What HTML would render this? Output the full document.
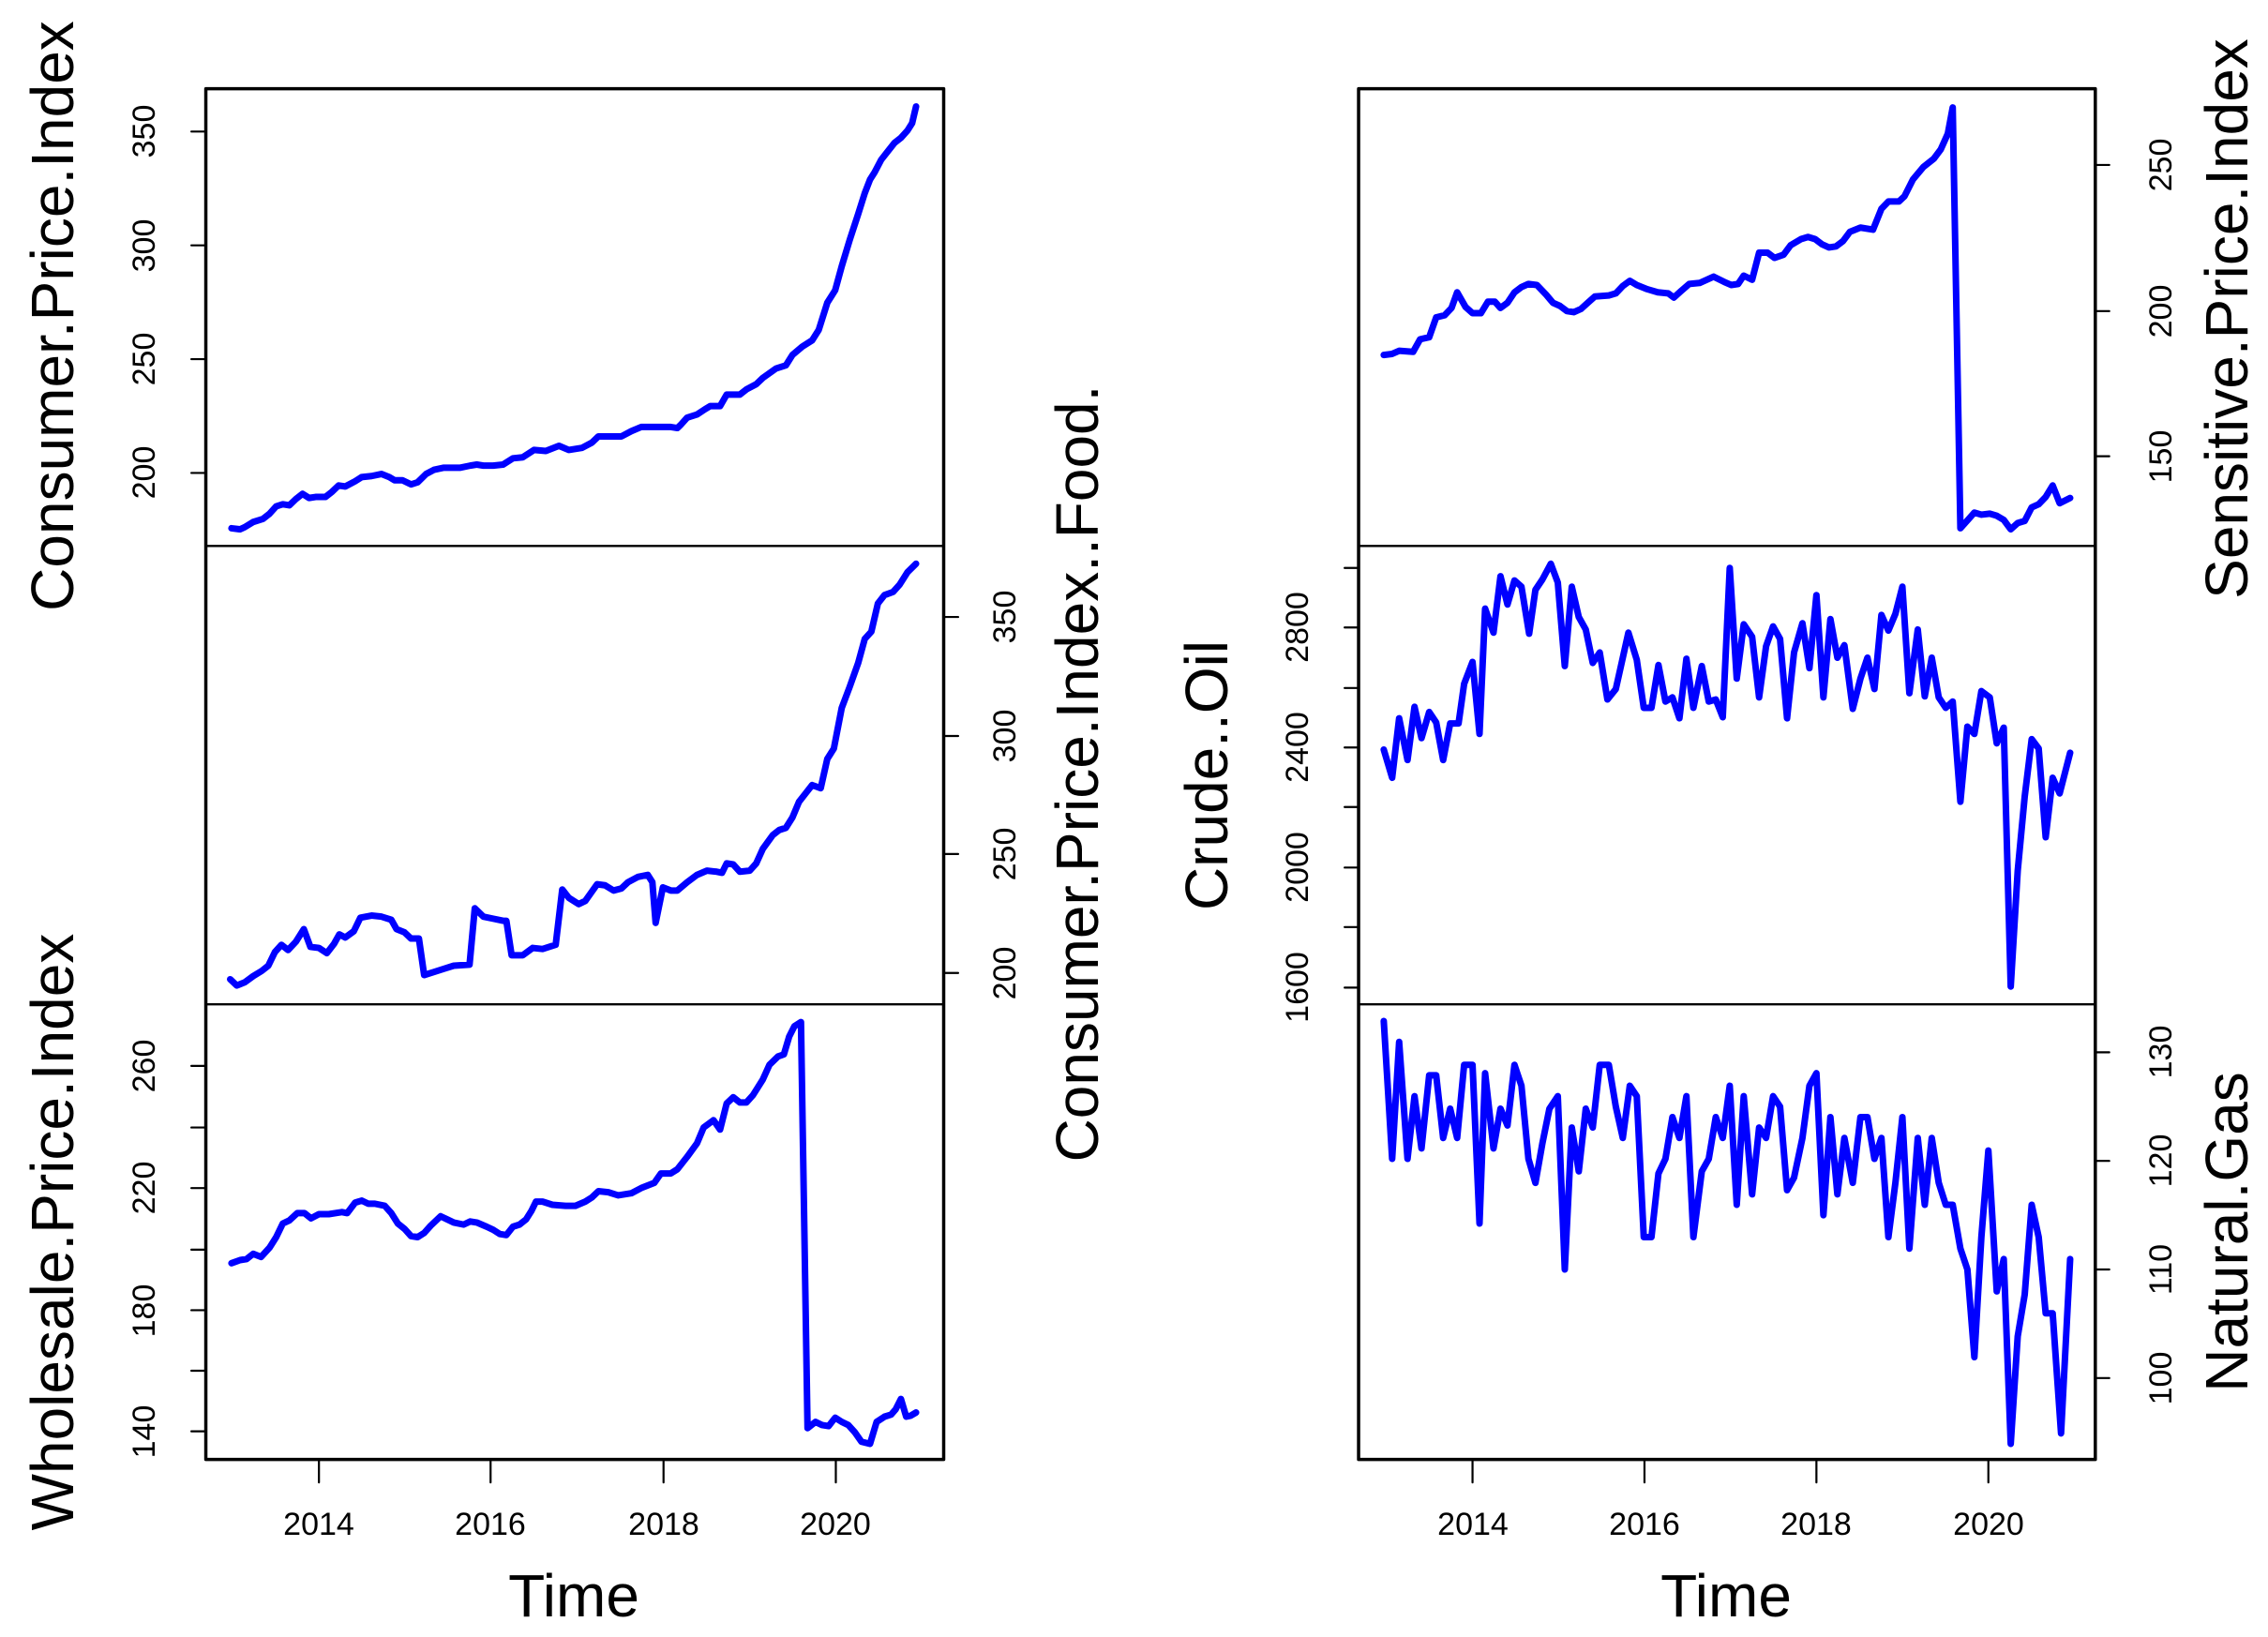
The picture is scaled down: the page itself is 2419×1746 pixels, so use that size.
<!DOCTYPE html>
<html><head><meta charset="utf-8"><style>html,body{margin:0;padding:0;background:#fff}svg{display:block}text{font-family:"Liberation Sans",sans-serif;fill:#000}</style></head><body>
<svg width="2419" height="1746" viewBox="0 0 2419 1746" xmlns="http://www.w3.org/2000/svg">
<g transform="scale(0.7014,1.1135)" fill="none" stroke-linejoin="round" stroke-linecap="round">
<rect x="313" y="85" width="1122" height="1313" stroke="#000" stroke-width="3.5" vector-effect="non-scaling-stroke"/>
<line x1="313" y1="523" x2="1435" y2="523" stroke="#000" stroke-width="2.4" vector-effect="non-scaling-stroke"/>
<line x1="313" y1="962" x2="1435" y2="962" stroke="#000" stroke-width="2.4" vector-effect="non-scaling-stroke"/>
<g stroke="#000" stroke-width="2.2">
<path vector-effect="non-scaling-stroke" d="M313 453H291M313 344H291M313 235H291M313 126H291M1435 932H1457M1435 818H1457M1435 705H1457M1435 591H1457M313 1371H291M313 1313H291M313 1255H291M313 1197H291M313 1138H291M313 1080H291M313 1021H291M485 1398V1420M746 1398V1420M1009 1398V1420M1271 1398V1420"/>
</g>
<g stroke="#0000ff" stroke-width="7">
<polyline vector-effect="non-scaling-stroke" points="352,506 365,507 372,505 385,500 400,497 410,492 420,485 430,483 440,484 450,478 460,473 470,477 480,476 495,476 505,471 515,465 525,466 540,461 550,457 565,456 580,454 592,457 600,460 612,460 625,464 635,462 648,454 660,450 675,448 700,448 715,446 725,445 735,446 750,446 765,445 780,439 795,438 812,431 830,432 850,427 865,431 885,429 900,424 910,418 930,418 945,418 960,413 975,409 1000,409 1020,409 1030,410 1035,407 1045,400 1060,397 1072,392 1080,389 1095,389 1105,378 1125,378 1135,373 1150,368 1160,362 1180,353 1195,350 1205,340 1220,332 1235,326 1245,316 1258,290 1270,278 1280,255 1292,230 1305,205 1315,185 1323,172 1330,165 1340,153 1350,145 1360,137 1370,132 1380,125 1387,118 1393,102"/>
<polyline vector-effect="non-scaling-stroke" points="350,938 360,944 372,941 385,935 398,930 408,925 418,912 428,905 438,910 450,902 462,890 472,907 485,908 497,913 508,904 516,895 525,898 538,892 548,879 565,877 580,878 595,881 603,890 615,893 625,899 637,899 645,934 660,931 675,928 690,925 714,924 722,870 735,878 750,880 765,882 770,882 778,915 795,915 810,908 825,909 845,905 855,852 865,860 880,866 890,863 908,847 920,848 933,853 945,851 955,845 970,840 985,838 992,845 997,884 1008,850 1020,853 1030,853 1045,845 1060,838 1075,834 1090,835 1098,836 1105,827 1115,828 1125,835 1140,834 1150,827 1160,813 1175,800 1185,795 1195,793 1205,783 1215,768 1225,760 1235,752 1248,755 1258,727 1268,717 1280,678 1292,658 1305,635 1315,612 1325,605 1335,578 1345,570 1358,567 1368,560 1380,548 1393,540"/>
<polyline vector-effect="non-scaling-stroke" points="352,1210 365,1207 375,1206 385,1201 397,1204 410,1195 420,1185 430,1172 440,1169 452,1162 463,1162 473,1167 485,1163 500,1163 520,1161 528,1162 540,1152 550,1150 560,1153 570,1153 585,1155 595,1162 605,1172 615,1177 625,1184 635,1185 645,1181 655,1174 670,1165 680,1168 690,1171 705,1173 715,1170 725,1171 740,1175 750,1178 760,1182 770,1183 780,1175 790,1173 800,1168 808,1160 815,1151 825,1151 840,1154 860,1155 875,1155 890,1151 900,1147 910,1141 925,1142 940,1145 960,1143 975,1138 995,1133 1005,1124 1020,1124 1030,1120 1045,1108 1060,1095 1070,1080 1085,1073 1095,1082 1105,1057 1115,1051 1125,1056 1135,1056 1145,1049 1160,1034 1170,1020 1183,1012 1192,1010 1200,993 1208,983 1218,979 1228,1368 1240,1362 1250,1365 1260,1366 1270,1358 1280,1362 1290,1365 1300,1372 1310,1381 1323,1383 1333,1362 1345,1357 1355,1355 1362,1350 1370,1340 1378,1357 1385,1356 1393,1353"/>
</g>
</g>
<g transform="translate(1250,0) scale(0.7455,1.1135)" fill="none" stroke-linejoin="round" stroke-linecap="round">
<rect x="267" y="85" width="1054" height="1313" stroke="#000" stroke-width="3.5" vector-effect="non-scaling-stroke"/>
<line x1="267" y1="523" x2="1321" y2="523" stroke="#000" stroke-width="2.4" vector-effect="non-scaling-stroke"/>
<line x1="267" y1="962" x2="1321" y2="962" stroke="#000" stroke-width="2.4" vector-effect="non-scaling-stroke"/>
<path stroke="#000" stroke-width="2.2" vector-effect="non-scaling-stroke" d="M1321 437H1341M1321 298H1341M1321 158H1341M267 946H247M267 888H247M267 831H247M267 773H247M267 716H247M267 659H247M267 601H247M267 544H247M1321 1320H1341M1321 1216H1341M1321 1112H1341M1321 1008H1341M430 1398V1420M676 1398V1420M922 1398V1420M1168 1398V1420"/>
<g stroke="#0000ff" stroke-width="7">
<polyline vector-effect="non-scaling-stroke" points="303,340 315,339 325,336 345,337 355,325 368,323 378,304 390,302 400,295 408,280 420,294 430,300 442,300 452,289 462,289 470,295 480,290 490,280 500,275 510,272 522,273 535,282 545,290 555,293 565,298 575,299 585,296 595,290 605,284 625,283 635,281 645,274 655,269 665,273 680,277 695,280 710,281 718,285 728,279 740,272 755,271 765,268 775,265 790,270 800,273 810,272 818,264 830,268 840,242 852,242 862,247 875,244 885,235 900,229 910,227 920,229 930,234 940,237 950,236 960,231 970,222 985,218 1003,220 1015,200 1025,193 1040,193 1048,188 1060,172 1075,160 1090,152 1100,143 1110,128 1117,103 1128,506 1140,497 1148,491 1158,493 1170,492 1180,494 1190,498 1200,507 1210,501 1220,499 1230,486 1240,483 1250,476 1260,465 1270,482 1285,477"/>
<polyline vector-effect="non-scaling-stroke" points="303,718 315,745 325,688 337,728 347,677 357,707 368,682 378,692 388,728 398,693 410,693 418,655 430,634 440,703 448,583 460,606 470,552 480,579 490,556 500,562 511,607 520,565 530,555 542,540 552,558 562,638 572,562 582,591 592,603 602,635 612,625 623,670 635,660 645,630 653,606 665,632 675,678 686,678 696,637 706,672 716,668 726,688 736,631 746,678 758,638 768,672 778,670 788,687 798,544 808,650 818,598 830,610 840,668 850,619 860,600 870,612 880,688 890,625 902,597 912,640 922,570 932,668 942,593 952,630 962,618 974,679 985,650 995,630 1005,660 1015,589 1025,604 1035,588 1045,562 1055,664 1067,603 1077,667 1087,630 1097,668 1107,678 1117,672 1128,768 1138,696 1148,703 1158,662 1170,668 1180,712 1190,697 1200,945 1210,834 1220,763 1230,708 1240,717 1250,802 1260,745 1270,760 1285,721"/>
<polyline vector-effect="non-scaling-stroke" points="303,978 315,1110 325,998 337,1110 347,1050 357,1100 368,1030 378,1030 388,1090 398,1062 408,1090 418,1020 430,1020 440,1172 448,1028 460,1100 470,1062 480,1078 490,1020 500,1040 510,1110 520,1133 530,1095 540,1062 552,1050 562,1216 572,1080 582,1122 592,1062 602,1080 612,1020 625,1020 635,1060 645,1090 655,1040 665,1050 675,1185 686,1185 696,1124 706,1110 716,1070 726,1090 736,1050 746,1185 758,1122 768,1110 778,1070 788,1090 798,1040 808,1154 818,1050 830,1144 840,1080 850,1090 860,1050 870,1060 880,1140 890,1128 902,1090 912,1040 922,1028 932,1164 942,1070 952,1144 962,1090 974,1133 985,1070 995,1070 1005,1110 1015,1090 1025,1185 1035,1133 1045,1070 1055,1196 1067,1090 1077,1154 1087,1090 1097,1133 1107,1154 1117,1154 1128,1196 1138,1216 1148,1300 1158,1185 1168,1102 1180,1237 1190,1206 1200,1383 1210,1280 1220,1240 1230,1154 1240,1185 1250,1258 1260,1258 1272,1373 1285,1206"/>
</g>
</g>
<g font-size="34" text-anchor="middle" dominant-baseline="central">
<text transform="translate(154,504) rotate(-90)">200</text>
<text transform="translate(154,383) rotate(-90)">250</text>
<text transform="translate(154,262) rotate(-90)">300</text>
<text transform="translate(154,140) rotate(-90)">350</text>
<text transform="translate(1072,1038) rotate(-90)">200</text>
<text transform="translate(1072,911) rotate(-90)">250</text>
<text transform="translate(1072,785) rotate(-90)">300</text>
<text transform="translate(1072,658) rotate(-90)">350</text>
<text transform="translate(154,1527) rotate(-90)">140</text>
<text transform="translate(154,1398) rotate(-90)">180</text>
<text transform="translate(154,1267) rotate(-90)">220</text>
<text transform="translate(154,1137) rotate(-90)">260</text>
<text transform="translate(2305,487) rotate(-90)">150</text>
<text transform="translate(2305,332) rotate(-90)">200</text>
<text transform="translate(2305,176) rotate(-90)">250</text>
<text transform="translate(1384,1053) rotate(-90)">1600</text>
<text transform="translate(1384,925) rotate(-90)">2000</text>
<text transform="translate(1384,797) rotate(-90)">2400</text>
<text transform="translate(1384,669) rotate(-90)">2800</text>
<text transform="translate(2305,1470) rotate(-90)">100</text>
<text transform="translate(2305,1354) rotate(-90)">110</text>
<text transform="translate(2305,1238) rotate(-90)">120</text>
<text transform="translate(2305,1122) rotate(-90)">130</text>
</g>
<g font-size="34" text-anchor="middle">
<text x="340" y="1637">2014</text><text x="523" y="1637">2016</text><text x="708" y="1637">2018</text><text x="891" y="1637">2020</text>
<text x="1571" y="1637">2014</text><text x="1754" y="1637">2016</text><text x="1937" y="1637">2018</text><text x="2121" y="1637">2020</text>
</g>
<g font-size="64" text-anchor="middle" dominant-baseline="central">
<text transform="translate(56,337) rotate(-90)">Consumer.Price.Index</text>
<text transform="translate(56,1314) rotate(-90)">Wholesale.Price.Index</text>
<text transform="translate(1149,825) rotate(-90)">Consumer.Price.Index..Food.</text>
<text transform="translate(2375,340) rotate(-90)">Sensitive.Price.Index</text>
<text transform="translate(2375,1314) rotate(-90)">Natural.Gas</text>
<text transform="translate(1287,827) rotate(-90)">Crude..Oil</text>
</g>
<g font-size="64" text-anchor="middle">
<text x="612" y="1724">Time</text>
<text x="1841" y="1724">Time</text>
</g>
</svg>
</body></html>
